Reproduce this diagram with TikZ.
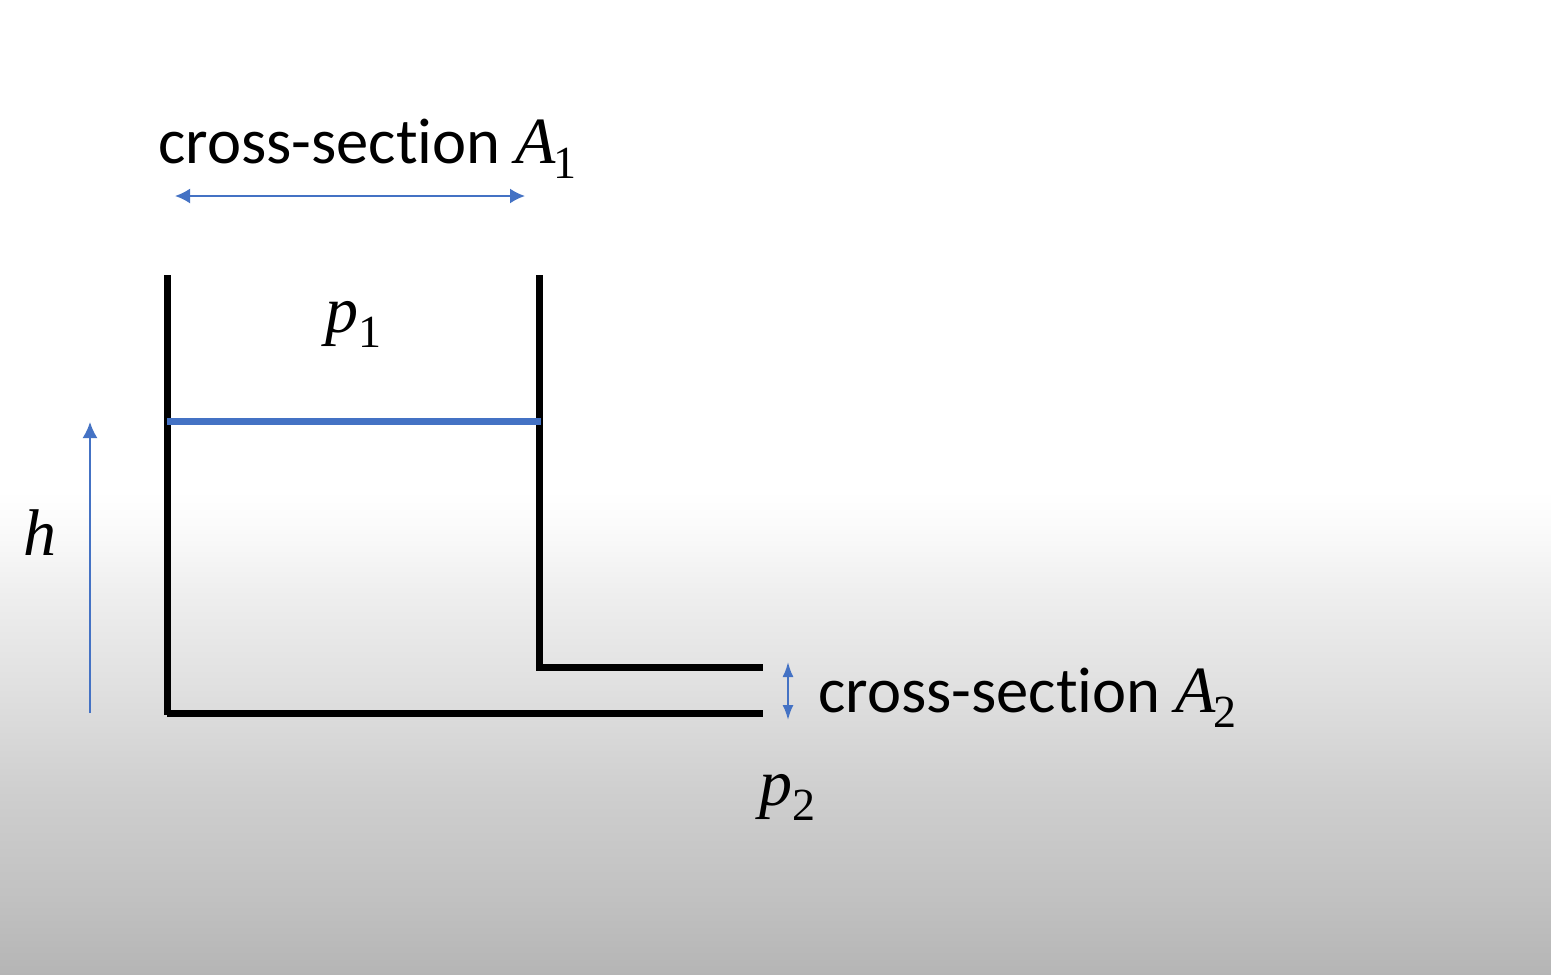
\documentclass[tikz,border=0pt]{standalone}
\usepackage{fontspec}
\setmainfont{Carlito}[Ligatures=CommonOff]
\newfontfamily\symfam{Liberation Serif}
\usetikzlibrary{arrows.meta}
\definecolor{bluel}{HTML}{4472C4}
\pgfdeclareverticalshading{bggrad}{100bp}{
 color(0bp)=(black!29);
 color(25bp)=(black!29);
 color(29.2bp)=(black!24);
 color(34.35bp)=(black!19);
 color(39.45bp)=(black!12.5);
 color(44.6bp)=(black!6.5);
 color(47.3bp)=(black!2.5);
 color(49.85bp)=(white);
 color(100bp)=(white)}
\newcommand{\mvar}[3][0pt]{{\fontsize{66}{66}\selectfont\symfam\itshape #2}\ifx&#3&\else\kern#1\raisebox{-15pt}{\fontsize{46}{46}\selectfont\symfam #3}\fi}
\tikzset{
 wall/.style={line width=7pt,black,line cap=butt},
 level/.style={line width=7pt,bluel},
 dim/.style={bluel,line width=2pt,-{Latex[length=16pt,width=15pt]}},
 dimb/.style={bluel,line width=2pt,{Latex[length=15pt,width=15pt]}-{Latex[length=15pt,width=15pt]}},
 dimc/.style={bluel,line width=2pt,{Latex[length=15pt,width=11pt]}-{Latex[length=15pt,width=11pt]}},
 lab/.style={inner sep=0pt,anchor=base west,font=\fontsize{64.6}{65}\selectfont},
 sym/.style={inner sep=0pt,anchor=base west},
}
\begin{document}
\begin{tikzpicture}[x=1pt,y=-1pt]
\useasboundingbox (0,0) rectangle (1551,975);
\shade[shading=bggrad] (0,0) rectangle (1551,975);
\coordinate (tl) at (167,275);
\coordinate (bl) at (167,715);
\coordinate (tr) at (539,275);
\coordinate (jn) at (539,670);
\coordinate (e1) at (763,667);
\coordinate (e2) at (763,713);
\coordinate (jw) at (536,667);
\coordinate (lb) at (167,713);
\coordinate (ll) at (167,421);
\coordinate (lr) at (541,421);
\coordinate (h0) at (90,713);
\coordinate (h1) at (90,422);
\coordinate (w0) at (175,196);
\coordinate (w1) at (525,196);
\coordinate (n0) at (788,662);
\coordinate (n1) at (788,720);
\draw[wall] (tl) -- (bl);
\draw[wall] (tr) -- (jn);
\draw[wall] (jw) -- (e1);
\draw[wall] (lb) -- (e2);
\draw[level] (ll) -- (lr);
\draw[dim] (h0) -- (h1);
\draw[dimb] (w0) -- (w1);
\draw[dimc] (n0) -- (n1);
\node[lab] (ta) at (158,163) {cross-section \mvar[-2pt]{A}{1}};
\node[lab] (tb) at (818,712) {cross-section \mvar[-2pt]{A}{2}};
\node[sym] (p1) at (325,332) {\mvar{p}{1}};
\node[sym] (p2) at (759,805) {\mvar{p}{2}};
\node[sym] (h) at (23,555) {\mvar{h}{}};
\end{tikzpicture}
\end{document}
